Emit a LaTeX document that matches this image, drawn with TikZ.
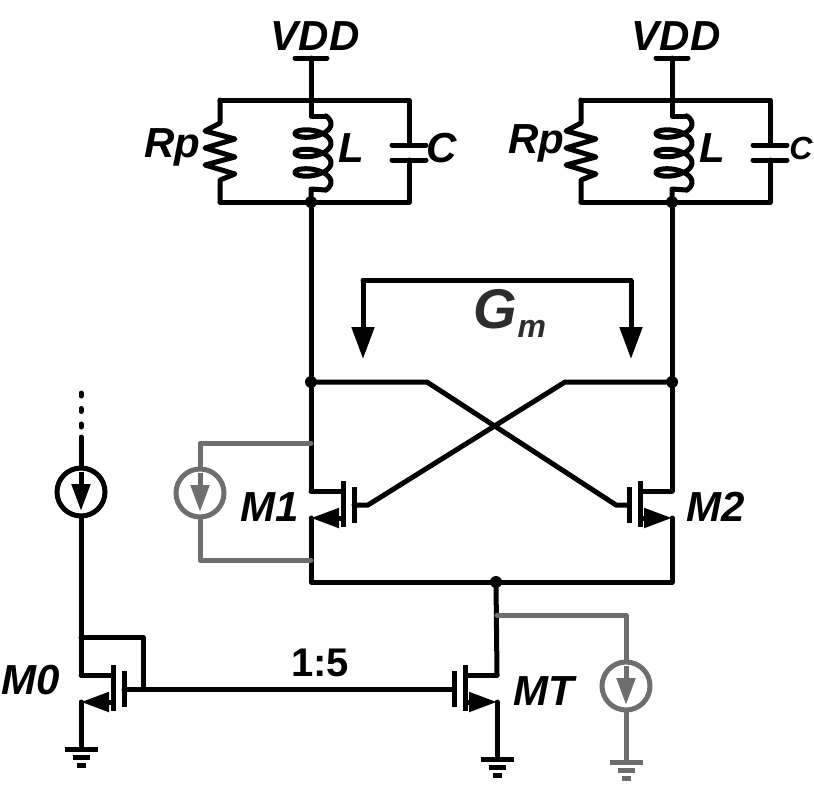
\documentclass[tikz,border=0pt]{standalone}
\usepackage{fontspec}
\setmainfont{Liberation Sans}
\usetikzlibrary{arrows.meta}
\definecolor{mygray}{RGB}{110,110,110}
\definecolor{gmcolor}{RGB}{45,45,45}
\tikzset{
wire/.style={line width=5pt,line cap=round,line join=round},
graywire/.style={wire,draw=mygray},
dot/.style={circle,fill=black,inner sep=0pt,minimum size=12pt},
lab/.style={font=\fontsize{42}{42}\selectfont\bfseries\itshape,inner sep=0pt},
src/.style={circle,draw,line width=5pt,inner sep=0pt,minimum size=48pt},
bigtip/.style={-{Triangle[length=32pt,width=22pt]}},
}
\newcommand{\mosdev}[4]{
\begin{scope}[shift={(#2,#3)},xscale=#4]
\coordinate (#1d) at (0,-14);
\coordinate (#1s) at (0,13);
\coordinate (#1g) at (43,0);
\draw[wire] (#1d) -- (30,-14);
\draw[wire,line cap=butt] (32,-24) -- (32,22);
\draw[wire,line cap=butt] (43,-18) -- (43,18);
\draw[wire,line cap=butt,-{Triangle[length=28pt,width=19pt]}] (32,13) -- (#1s);
\end{scope}
}
\newcommand{\isrc}[4]{
\node[src,draw=#4] (#1) at (#2,#3) {};
\draw[wire,line cap=butt,draw=#4,fill=#4,-{Triangle[length=27pt,width=18pt]}] (#2,#3-20) -- (#2,#3+19);
}
\newcommand{\gnd}[4]{
\coordinate (#1) at (#2,#3);
\draw[wire,line cap=butt,draw=#4] (#2-16.5,#3) -- (#2+16.5,#3);
\draw[wire,line cap=butt,draw=#4] (#2-8.5,#3+8) -- (#2+8.5,#3+8);
\draw[wire,line cap=butt,draw=#4] (#2-4.5,#3+16) -- (#2+4.5,#3+16);
}
\begin{document}
\begin{tikzpicture}[x=1pt,y=-1pt]
\useasboundingbox (0,0) rectangle (814,796);
\foreach \n/\cx in {l/311,r/672}{
\begin{scope}[shift={(\cx,0)}]
\node[lab] (vdd\n) at (4,36) {VDD};
\node[lab] (lab\n) at (40,148) {L};
\coordinate (top\n) at (0,58);
\coordinate (rail\n) at (0,100);
\coordinate (tl\n) at (-91,100);
\coordinate (tr\n) at (98,100);
\coordinate (bl\n) at (-91,202);
\coordinate (br\n) at (98,202);
\coordinate (coila\n) at (0,116);
\coordinate (coilb\n) at (0,189);
\coordinate (capa\n) at (98,145);
\coordinate (capb\n) at (98,160);
\node[dot] (out\n) at (0,202) {};
\draw[wire] (-16,58) -- (16,58);
\draw[wire] (top\n) -- (rail\n) -- (coila\n) -- (14,116);
\draw[wire] (tl\n) -- (tr\n) -- (capa\n);
\draw[wire] (-17+98,145) -- (17+98,145);
\draw[wire] (-17+98,160) -- (17+98,160);
\draw[wire] (capb\n) -- (br\n) -- (bl\n);
\draw[wire] (tl\n) -- (-91,123) -- (-106,131) -- (-76,139) -- (-106,148) -- (-76,157) -- (-106,165) -- (-76,174) -- (-91,180) -- (bl\n);
\draw[wire,smooth] plot[domain=-45:1125,samples=120] ({2+18*cos(\x)},{153+8*sin(\x)+0.054*(\x-540)});
\draw[wire] (14,190) -- (coilb\n) -- (out\n);
\end{scope}
}
\node[lab] (rpl) at (172,147) {Rp};
\node[lab] (rpr) at (536,143) {Rp};
\node[lab] (cl) at (442,148) {C};
\node[lab,font=\fontsize{32}{32}\selectfont\bfseries\itshape] (cr) at (801,148) {C};
\node[dot] (xl) at (311,382) {};
\node[dot] (xr) at (672,382) {};
\node[dot] (tail) at (496,582) {};
\mosdev{mone}{311}{505}{1}
\mosdev{mtwo}{672}{505}{-1}
\mosdev{mt}{497}{689}{-1}
\mosdev{mzero}{81}{689}{1}
\node[lab] (mlone) at (270,507) {M1};
\node[lab] (mltwo) at (716,507) {M2};
\node[lab] (mlt) at (544,691) {MT};
\node[lab] (mlzero) at (31,680) {M0};
\node[font=\fontsize{40}{40}\selectfont\bfseries,inner sep=0pt] (ratio) at (320,663) {1:5};
\node[inner sep=0pt,text=gmcolor] (gm) at (510,313) {\fontsize{56}{56}\selectfont\bfseries\itshape G\raisebox{-9pt}{\fontsize{32}{32}\selectfont m}};
\coordinate (gma) at (363,280);
\coordinate (gmb) at (631,280);
\draw[wire,line cap=butt,bigtip] (gma) -- (363,359);
\draw[wire,line cap=butt,bigtip] (gmb) -- (631,359);
\draw[wire] (gma) -- (gmb);
\coordinate (xa) at (427,382);
\coordinate (xb) at (565,382);
\coordinate (gl) at (368,505);
\coordinate (gr) at (616,505);
\draw[wire] (xl) -- (xa) -- (gr) -- (mtwog);
\draw[wire] (xr) -- (xb) -- (gl) -- (moneg);
\draw[wire] (outl) -- (xl) -- (moned);
\draw[wire] (outr) -- (xr) -- (mtwod);
\coordinate (railb) at (311,582);
\coordinate (railc) at (672,582);
\draw[wire] (mones) -- (railb) -- (railc) -- (mtwos);
\draw[wire] (tail) -- (mtd);
\gnd{gt}{497}{759}{black}
\draw[wire] (mts) -- (gt);
\gnd{gz}{81}{749}{black}
\draw[wire] (mzeros) -- (gz);
\coordinate (dz) at (81,637);
\coordinate (dzr) at (143,637);
\coordinate (gz2) at (143,689);
\draw[wire] (dz) -- (dzr) -- (gz2);
\draw[wire] (mzerog) -- (mtg);
\isrc{ibias}{81}{492}{black}
\coordinate (dash) at (81,393);
\coordinate (dashb) at (81,437);
\draw[wire,dash pattern=on 3pt off 12.5pt] (dash) -- (dashb);
\draw[wire] (dashb) -- (ibias);
\draw[wire] (ibias) -- (mzerod);
\isrc{ione}{200}{493}{mygray}
\coordinate (ga) at (311,443);
\coordinate (gb) at (200,443);
\coordinate (gc) at (200,560);
\coordinate (gd) at (311,560);
\draw[graywire] (ga) -- (gb) -- (ione);
\draw[graywire] (ione) -- (gc) -- (gd);
\isrc{itwo}{626}{686}{mygray}
\coordinate (ge) at (497,615);
\coordinate (gf) at (626,615);
\gnd{gg}{626}{762}{mygray}
\draw[graywire] (ge) -- (gf) -- (itwo);
\draw[graywire] (itwo) -- (gg);
\end{tikzpicture}
\end{document}
